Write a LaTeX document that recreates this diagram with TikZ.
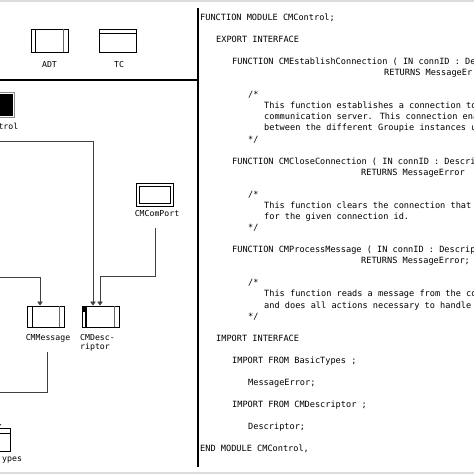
\documentclass[tikz,border=0pt]{standalone}
\usepackage{fontspec}
\newfontfamily\codefont{DejaVu Sans Mono}
\usetikzlibrary{arrows.meta}
\begin{document}
\begin{tikzpicture}[x=1pt,y=-1pt,
  code/.style={anchor=base west, inner sep=0pt, font=\codefont\fontsize{8.6}{10}\selectfont},
  lbl/.style={anchor=base, inner sep=0pt, font=\codefont\fontsize{8.2}{10}\selectfont},
  lblw/.style={lbl, anchor=base west},
  lble/.style={lbl, anchor=base east},
  conn/.style={draw=black!75, line width=0.8pt},
  arr/.style={-{Triangle[length=4pt,width=5.5pt]}},
  icon/.style={draw=black, line width=0.9pt, minimum width=37pt, minimum height=23pt, inner sep=0pt},
  rule/.style={draw=black, line width=1.8pt},
  band/.style={fill=black!14, draw=none}
]
\useasboundingbox (0,0) rectangle (474,474);
\clip (0,0) rectangle (474,474);
\fill[white] (0,0) rectangle (474,474);
\path[band] (0,0) rectangle (474,2);
\path[band] (0,471.5) rectangle (474,474);

% frame lines
\coordinate (divtop) at (198,8);
\coordinate (divbot) at (198,467);
\coordinate (hl) at (0,80);
\draw[rule] (divtop) -- (divbot);
\draw[rule, line width=1.5pt] (hl) -- (hl -| divtop);

% legend icons
\node[icon] (adt) at (49.5,40.5) {};
\draw[line width=1.6pt] ([xshift=5pt]adt.north west) -- ([xshift=5pt]adt.south west);
\draw[line width=0.6pt, black!60] ([xshift=-5.5pt]adt.north east) -- ([xshift=-5.5pt]adt.south east);
\node[lbl] (adtl) at (49.5,67.5) {ADT};
\node[icon] (tc) at (117.5,40.5) {};
\draw[line width=0.7pt] ([yshift=-4.5pt]tc.north west) -- ([yshift=-4.5pt]tc.north east);
\node[lbl] (tcl) at (119,67.5) {TC};

% CMControl (partly visible)
\node[icon, draw=black!45, line width=0.8pt, minimum width=39pt, minimum height=25pt] (ctrl) at (-5.5,105) {};
\fill[black] ([shift={(1.6pt,-1.6pt)}]ctrl.north west) rectangle ([shift={(-1.6pt,1.6pt)}]ctrl.south east);
\node[lble] (ctrll) at (18.5,129.5) {trol};

% CMComPort
\node[icon] (cmcp) at (154.5,194.5) {};
\draw[line width=0.8pt] ([shift={(3.5pt,-3.5pt)}]cmcp.north west) rectangle ([shift={(-3.5pt,3.5pt)}]cmcp.south east);
\node[lbl] (cmcpl) at (157,216.5) {CMComPort};

% CMMessage
\node[icon, minimum height=21pt] (cmmsg) at (45.5,316.5) {};
\draw[line width=1.6pt] ([xshift=6pt]cmmsg.north west) -- ([xshift=6pt]cmmsg.south west);
\draw[line width=0.6pt, black!60] ([xshift=-5pt]cmmsg.north east) -- ([xshift=-5pt]cmmsg.south east);
\node[lbl] (cmmsgl) at (48,340.2) {CMMessage};

% CMDescriptor
\node[icon, minimum height=21pt] (cmdesc) at (100.5,316.5) {};
\fill[black] (cmdesc.north west) rectangle ([shift={(5pt,-6pt)}]cmdesc.north west);
\draw[line width=1.6pt] ([shift={(4.5pt,-6pt)}]cmdesc.north west) -- ([xshift=4.5pt]cmdesc.south west);
\draw[line width=0.6pt, black!60] ([xshift=-5pt]cmdesc.north east) -- ([xshift=-5pt]cmdesc.south east);
\node[lblw] (cmdescl) at (80,340.2) {CMDesc-};
\node[lblw] (cmdescl2) at (80,349.4) {riptor};

% BasicTypes (partly visible)
\node[icon] (bt) at (-8.5,440) {};
\draw[line width=0.7pt] ([yshift=-5pt]bt.north west) -- ([yshift=-5pt]bt.north east);
\node[lblw] (btl) at (2,461.5) {ypes};

% connectors
\coordinate (c1) at (0,141);
\draw[conn, arr] (c1) -| ([xshift=-7.5pt]cmdesc.north);
\coordinate (cpout) at (155,228);
\draw[conn, arr] (cpout) |- ([shift={(-0.5pt,29pt)}]cmdesc.north) -- ([xshift=-0.5pt]cmdesc.north);
\coordinate (c3) at (0,277);
\draw[conn, arr] (c3) -| ([xshift=-5.5pt]cmmsg.north);
\coordinate (m4) at (47,352);
\coordinate (c4) at (0,392);
\draw[conn] (m4) |- (c4);
\coordinate (c5) at (-1.5,417);
\draw[conn, arr] (c5) -- ([xshift=7pt]bt.north);

% code text
\node[code] (t0) at (200,20.2) {FUNCTION MODULE CMControl;};
\node[code] (t2) at (216,42.3) {EXPORT INTERFACE};
\node[code] (t4) at (232,64.5) {FUNCTION CMEstablishConnection ( IN connID : De};
\node[code] (t5) at (384,75.6) {RETURNS MessageEr};
\node[code] (t7) at (248,97.7) {/*};
\node[code] (t8) at (264,108.8) {This function establishes a connection to};
\node[code] (t9) at (264,119.8) {communication server. This connection ena};
\node[code] (t10) at (264,130.9) {between the different Groupie instances u};
\node[code] (t11) at (248,142.0) {*/};
\node[code] (t13) at (232,164.1) {FUNCTION CMCloseConnection ( IN connID : Descri};
\node[code] (t14) at (361,175.2) {RETURNS MessageError};
\node[code] (t16) at (248,197.3) {/*};
\node[code] (t17) at (264,208.4) {This function clears the connection that};
\node[code] (t18) at (264,219.5) {for the given connection id.};
\node[code] (t19) at (248,230.5) {*/};
\node[code] (t21) at (232,252.7) {FUNCTION CMProcessMessage ( IN connID : Descrip};
\node[code] (t22) at (361,263.7) {RETURNS MessageError;};
\node[code] (t24) at (248,285.9) {/*};
\node[code] (t25) at (264,296.9) {This function reads a message from the co};
\node[code] (t26) at (264,308.0) {and does all actions necessary to handle};
\node[code] (t27) at (248,319.1) {*/};
\node[code] (t29) at (216,341.2) {IMPORT INTERFACE};
\node[code] (t31) at (232,363.4) {IMPORT FROM BasicTypes ;};
\node[code] (t33) at (248,385.5) {MessageError;};
\node[code] (t35) at (232,407.6) {IMPORT FROM CMDescriptor ;};
\node[code] (t37) at (248,429.8) {Descriptor;};
\node[code] (t39) at (200,451.9) {END MODULE CMControl,};
\end{tikzpicture}
\end{document}
